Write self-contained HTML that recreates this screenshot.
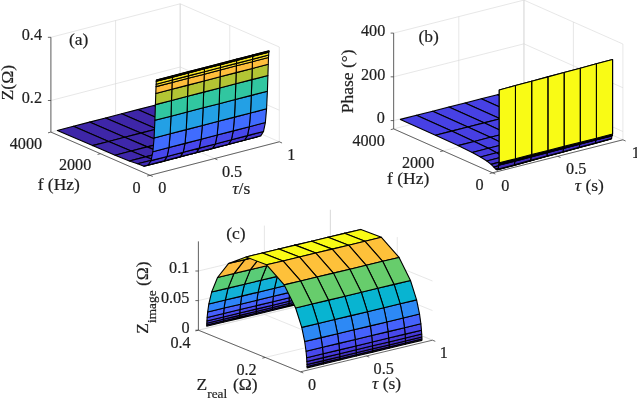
<!DOCTYPE html><html><head><meta charset="utf-8"><title>Figure</title><style>html,body{margin:0;padding:0;background:#fff}svg{display:block}</style></head><body><svg width="637" height="400" viewBox="0 0 637 400" font-family="'Liberation Serif', 'DejaVu Serif', serif" fill="#1f1f1f"><rect width="637" height="400" fill="#fff"/><g fill="none"><line x1="150" y1="175.3" x2="50.9" y2="132.1" stroke="#d3d3d3" stroke-width="0.55"/><line x1="50.9" y1="132.1" x2="50.9" y2="37.3" stroke="#d3d3d3" stroke-width="0.55"/><line x1="214.65" y1="158.55" x2="115.55" y2="115.35" stroke="#d3d3d3" stroke-width="0.55"/><line x1="115.55" y1="115.35" x2="115.55" y2="20.55" stroke="#d3d3d3" stroke-width="0.55"/><line x1="279.3" y1="141.8" x2="180.2" y2="98.6" stroke="#d3d3d3" stroke-width="0.55"/><line x1="180.2" y1="98.6" x2="180.2" y2="3.8" stroke="#d3d3d3" stroke-width="0.55"/><line x1="150" y1="175.3" x2="279.3" y2="141.8" stroke="#d3d3d3" stroke-width="0.55"/><line x1="279.3" y1="141.8" x2="279.3" y2="47" stroke="#d3d3d3" stroke-width="0.55"/><line x1="100.45" y1="153.7" x2="229.75" y2="120.2" stroke="#d3d3d3" stroke-width="0.55"/><line x1="229.75" y1="120.2" x2="229.75" y2="25.4" stroke="#d3d3d3" stroke-width="0.55"/><line x1="50.9" y1="132.1" x2="180.2" y2="98.6" stroke="#d3d3d3" stroke-width="0.55"/><line x1="180.2" y1="98.6" x2="180.2" y2="3.8" stroke="#d3d3d3" stroke-width="0.55"/><line x1="50.9" y1="100.5" x2="180.2" y2="67" stroke="#d3d3d3" stroke-width="0.55"/><line x1="180.2" y1="67" x2="279.3" y2="110.2" stroke="#d3d3d3" stroke-width="0.55"/><line x1="50.9" y1="37.3" x2="180.2" y2="3.8" stroke="#d3d3d3" stroke-width="0.55"/><line x1="180.2" y1="3.8" x2="279.3" y2="47" stroke="#d3d3d3" stroke-width="0.55"/><g stroke="#000" stroke-width="1.1" stroke-linejoin="round"><polygon points="153.79,105.44 169.86,101.28 205.04,116.46 188.97,120.62" fill="#3e26a8"/><polygon points="137.72,109.61 153.79,105.44 188.97,120.62 172.9,124.79" fill="#3e26a8"/><polygon points="121.65,113.77 137.72,109.61 172.9,124.79 156.83,128.95" fill="#3e26a8"/><polygon points="105.58,117.93 121.65,113.77 156.83,128.95 140.76,133.11" fill="#3e26a8"/><polygon points="188.97,120.62 205.04,116.46 227.58,126.06 211.51,130.23" fill="#3e27aa"/><polygon points="89.51,122.1 105.58,117.93 140.76,133.11 124.69,137.28" fill="#3e26a8"/><polygon points="172.9,124.79 188.97,120.62 211.51,130.23 195.44,134.39" fill="#3e27aa"/><polygon points="73.44,126.26 89.51,122.1 124.69,137.28 108.62,141.44" fill="#3e26a8"/><polygon points="211.51,130.23 227.58,126.06 241.83,131.86 225.76,136.03" fill="#3e27ab"/><polygon points="156.83,128.95 172.9,124.79 195.44,134.39 179.37,138.56" fill="#3e27aa"/><polygon points="57.37,130.42 73.44,126.26 108.62,141.44 92.55,145.6" fill="#3e26a8"/><polygon points="195.44,134.39 211.51,130.23 225.76,136.03 209.69,140.19" fill="#3e27ab"/><polygon points="140.76,133.11 156.83,128.95 179.37,138.56 163.3,142.72" fill="#3e27aa"/><polygon points="225.76,136.03 241.83,131.86 250.09,134.68 234.02,138.84" fill="#3f28af"/><polygon points="179.37,138.56 195.44,134.39 209.69,140.19 193.62,144.35" fill="#3e27ab"/><polygon points="124.69,137.28 140.76,133.11 163.3,142.72 147.23,146.88" fill="#3e27aa"/><polygon points="234.02,138.84 250.09,134.68 256.5,137.15 240.43,141.32" fill="#402ab5"/><polygon points="209.69,140.19 225.76,136.03 234.02,138.84 217.95,143.01" fill="#3f28af"/><polygon points="240.43,141.32 256.5,137.15 260.73,135.84 244.66,140" fill="#402bb7"/><polygon points="163.3,142.72 179.37,138.56 193.62,144.35 177.55,148.52" fill="#3e27ab"/><polygon points="108.62,141.44 124.69,137.28 147.23,146.88 131.16,151.05" fill="#3e27aa"/><polygon points="217.95,143.01 234.02,138.84 240.43,141.32 224.36,145.48" fill="#402ab5"/><polygon points="193.62,144.35 209.69,140.19 217.95,143.01 201.88,147.17" fill="#3f28af"/><polygon points="244.66,140 260.73,135.84 263.52,131.46 247.45,135.63" fill="#4434cf"/><polygon points="224.36,145.48 240.43,141.32 244.66,140 228.59,144.16" fill="#402bb7"/><polygon points="147.23,146.88 163.3,142.72 177.55,148.52 161.48,152.68" fill="#3e27ab"/><polygon points="92.55,145.6 108.62,141.44 131.16,151.05 115.09,155.21" fill="#3e27aa"/><polygon points="201.88,147.17 217.95,143.01 224.36,145.48 208.29,149.64" fill="#402ab5"/><polygon points="177.55,148.52 193.62,144.35 201.88,147.17 185.81,151.33" fill="#3f28af"/><polygon points="247.45,135.63 263.52,131.46 265.37,122.53 249.3,126.7" fill="#4747ec"/><polygon points="228.59,144.16 244.66,140 247.45,135.63 231.38,139.79" fill="#4434cf"/><polygon points="208.29,149.64 224.36,145.48 228.59,144.16 212.52,148.33" fill="#402bb7"/><polygon points="131.16,151.05 147.23,146.88 161.48,152.68 145.41,156.85" fill="#3e27ab"/><polygon points="185.81,151.33 201.88,147.17 208.29,149.64 192.22,153.81" fill="#402ab5"/><polygon points="161.48,152.68 177.55,148.52 185.81,151.33 169.74,155.5" fill="#3f28af"/><polygon points="231.38,139.79 247.45,135.63 249.3,126.7 233.23,130.86" fill="#4747ec"/><polygon points="249.3,126.7 265.37,122.53 266.58,108.81 250.51,112.98" fill="#406cfe"/><polygon points="212.52,148.33 228.59,144.16 231.38,139.79 215.31,143.95" fill="#4434cf"/><polygon points="192.22,153.81 208.29,149.64 212.52,148.33 196.45,152.49" fill="#402bb7"/><polygon points="115.09,155.21 131.16,151.05 145.41,156.85 129.34,161.01" fill="#3e27ab"/><polygon points="169.74,155.5 185.81,151.33 192.22,153.81 176.15,157.97" fill="#402ab5"/><polygon points="145.41,156.85 161.48,152.68 169.74,155.5 153.67,159.66" fill="#3f28af"/><polygon points="215.31,143.95 231.38,139.79 233.23,130.86 217.16,135.02" fill="#4747ec"/><polygon points="233.23,130.86 249.3,126.7 250.51,112.98 234.44,117.14" fill="#406cfe"/><polygon points="196.45,152.49 212.52,148.33 215.31,143.95 199.24,148.12" fill="#4434cf"/><polygon points="176.15,157.97 192.22,153.81 196.45,152.49 180.38,156.65" fill="#402bb7"/><polygon points="250.51,112.98 266.58,108.81 267.39,91.18 251.32,95.35" fill="#23a0e5"/><polygon points="153.67,159.66 169.74,155.5 176.15,157.97 160.08,162.13" fill="#402ab5"/><polygon points="129.34,161.01 145.41,156.85 153.67,159.66 137.6,163.82" fill="#3f28af"/><polygon points="199.24,148.12 215.31,143.95 217.16,135.02 201.09,139.19" fill="#4747ec"/><polygon points="217.16,135.02 233.23,130.86 234.44,117.14 218.37,121.3" fill="#406cfe"/><polygon points="180.38,156.65 196.45,152.49 199.24,148.12 183.17,152.28" fill="#4434cf"/><polygon points="160.08,162.13 176.15,157.97 180.38,156.65 164.31,160.82" fill="#402bb7"/><polygon points="234.44,117.14 250.51,112.98 251.32,95.35 235.25,99.51" fill="#23a0e5"/><polygon points="137.6,163.82 153.67,159.66 160.08,162.13 144.01,166.3" fill="#402ab5"/><polygon points="251.32,95.35 267.39,91.18 267.92,75.46 251.85,79.62" fill="#31c6a0"/><polygon points="183.17,152.28 199.24,148.12 201.09,139.19 185.02,143.35" fill="#4747ec"/><polygon points="201.09,139.19 217.16,135.02 218.37,121.3 202.3,125.47" fill="#406cfe"/><polygon points="164.31,160.82 180.38,156.65 183.17,152.28 167.1,156.44" fill="#4434cf"/><polygon points="144.01,166.3 160.08,162.13 164.31,160.82 148.24,164.98" fill="#402bb7"/><polygon points="218.37,121.3 234.44,117.14 235.25,99.51 219.18,103.67" fill="#23a0e5"/><polygon points="235.25,99.51 251.32,95.35 251.85,79.62 235.78,83.78" fill="#31c6a0"/><polygon points="167.1,156.44 183.17,152.28 185.02,143.35 168.95,147.51" fill="#4747ec"/><polygon points="251.85,79.62 267.92,75.46 268.27,64.3 252.2,68.46" fill="#b3c534"/><polygon points="185.02,143.35 201.09,139.19 202.3,125.47 186.23,129.63" fill="#406cfe"/><polygon points="148.24,164.98 164.31,160.82 167.1,156.44 151.03,160.61" fill="#4434cf"/><polygon points="202.3,125.47 218.37,121.3 219.18,103.67 203.11,107.84" fill="#23a0e5"/><polygon points="252.2,68.46 268.27,64.3 268.5,57.51 252.43,61.67" fill="#febe3c"/><polygon points="219.18,103.67 235.25,99.51 235.78,83.78 219.71,87.95" fill="#31c6a0"/><polygon points="151.03,160.61 167.1,156.44 168.95,147.51 152.88,151.68" fill="#4747ec"/><polygon points="235.78,83.78 251.85,79.62 252.2,68.46 236.13,72.62" fill="#b3c534"/><polygon points="168.95,147.51 185.02,143.35 186.23,129.63 170.16,133.79" fill="#406cfe"/><polygon points="252.43,61.67 268.5,57.51 268.66,55.05 252.59,59.21" fill="#f8da2b"/><polygon points="252.59,59.21 268.66,55.05 268.76,52.15 252.69,56.32" fill="#f5e526"/><polygon points="186.23,129.63 202.3,125.47 203.11,107.84 187.04,112" fill="#23a0e5"/><polygon points="252.69,56.32 268.76,52.15 268.83,51.87 252.76,56.03" fill="#f6f11f"/><polygon points="252.76,56.03 268.83,51.87 268.87,51.54 252.8,55.7" fill="#f6f21e"/><polygon points="252.8,55.7 268.87,51.54 268.9,51.27 252.83,55.43" fill="#f7f31c"/><polygon points="252.83,55.43 268.9,51.27 268.92,50.96 252.85,55.12" fill="#f7f51b"/><polygon points="252.85,55.12 268.92,50.96 268.93,50.78 252.86,54.94" fill="#f7f61a"/><polygon points="236.13,72.62 252.2,68.46 252.43,61.67 236.36,65.84" fill="#febe3c"/><polygon points="203.11,107.84 219.18,103.67 219.71,87.95 203.64,92.11" fill="#31c6a0"/><polygon points="219.71,87.95 235.78,83.78 236.13,72.62 220.06,76.79" fill="#b3c534"/><polygon points="152.88,151.68 168.95,147.51 170.16,133.79 154.09,137.96" fill="#406cfe"/><polygon points="236.36,65.84 252.43,61.67 252.59,59.21 236.52,63.38" fill="#f8da2b"/><polygon points="236.52,63.38 252.59,59.21 252.69,56.32 236.62,60.48" fill="#f5e526"/><polygon points="170.16,133.79 186.23,129.63 187.04,112 170.97,116.16" fill="#23a0e5"/><polygon points="236.62,60.48 252.69,56.32 252.76,56.03 236.69,60.19" fill="#f6f11f"/><polygon points="236.69,60.19 252.76,56.03 252.8,55.7 236.73,59.87" fill="#f6f21e"/><polygon points="236.73,59.87 252.8,55.7 252.83,55.43 236.76,59.59" fill="#f7f31c"/><polygon points="236.76,59.59 252.83,55.43 252.85,55.12 236.78,59.29" fill="#f7f51b"/><polygon points="236.78,59.29 252.85,55.12 252.86,54.94 236.79,59.1" fill="#f7f61a"/><polygon points="220.06,76.79 236.13,72.62 236.36,65.84 220.29,70" fill="#febe3c"/><polygon points="187.04,112 203.11,107.84 203.64,92.11 187.57,96.27" fill="#31c6a0"/><polygon points="203.64,92.11 219.71,87.95 220.06,76.79 203.99,80.95" fill="#b3c534"/><polygon points="220.29,70 236.36,65.84 236.52,63.38 220.45,67.54" fill="#f8da2b"/><polygon points="220.45,67.54 236.52,63.38 236.62,60.48 220.55,64.64" fill="#f5e526"/><polygon points="154.09,137.96 170.16,133.79 170.97,116.16 154.9,120.33" fill="#23a0e5"/><polygon points="220.55,64.64 236.62,60.48 236.69,60.19 220.62,64.36" fill="#f6f11f"/><polygon points="220.62,64.36 236.69,60.19 236.73,59.87 220.66,64.03" fill="#f6f21e"/><polygon points="220.66,64.03 236.73,59.87 236.76,59.59 220.69,63.76" fill="#f7f31c"/><polygon points="220.69,63.76 236.76,59.59 236.78,59.29 220.71,63.45" fill="#f7f51b"/><polygon points="220.71,63.45 236.78,59.29 236.79,59.1 220.72,63.27" fill="#f7f61a"/><polygon points="203.99,80.95 220.06,76.79 220.29,70 204.22,74.16" fill="#febe3c"/><polygon points="170.97,116.16 187.04,112 187.57,96.27 171.5,100.44" fill="#31c6a0"/><polygon points="187.57,96.27 203.64,92.11 203.99,80.95 187.92,85.12" fill="#b3c534"/><polygon points="204.22,74.16 220.29,70 220.45,67.54 204.38,71.7" fill="#f8da2b"/><polygon points="204.38,71.7 220.45,67.54 220.55,64.64 204.48,68.81" fill="#f5e526"/><polygon points="204.48,68.81 220.55,64.64 220.62,64.36 204.55,68.52" fill="#f6f11f"/><polygon points="204.55,68.52 220.62,64.36 220.66,64.03 204.59,68.19" fill="#f6f21e"/><polygon points="204.59,68.19 220.66,64.03 220.69,63.76 204.62,67.92" fill="#f7f31c"/><polygon points="204.62,67.92 220.69,63.76 220.71,63.45 204.64,67.61" fill="#f7f51b"/><polygon points="204.64,67.61 220.71,63.45 220.72,63.27 204.65,67.43" fill="#f7f61a"/><polygon points="187.92,85.12 203.99,80.95 204.22,74.16 188.15,78.33" fill="#febe3c"/><polygon points="154.9,120.33 170.97,116.16 171.5,100.44 155.43,104.6" fill="#31c6a0"/><polygon points="171.5,100.44 187.57,96.27 187.92,85.12 171.85,89.28" fill="#b3c534"/><polygon points="188.15,78.33 204.22,74.16 204.38,71.7 188.31,75.87" fill="#f8da2b"/><polygon points="188.31,75.87 204.38,71.7 204.48,68.81 188.41,72.97" fill="#f5e526"/><polygon points="188.41,72.97 204.48,68.81 204.55,68.52 188.48,72.68" fill="#f6f11f"/><polygon points="188.48,72.68 204.55,68.52 204.59,68.19 188.52,72.36" fill="#f6f21e"/><polygon points="188.52,72.36 204.59,68.19 204.62,67.92 188.55,72.08" fill="#f7f31c"/><polygon points="188.55,72.08 204.62,67.92 204.64,67.61 188.57,71.78" fill="#f7f51b"/><polygon points="188.57,71.78 204.64,67.61 204.65,67.43 188.58,71.59" fill="#f7f61a"/><polygon points="171.85,89.28 187.92,85.12 188.15,78.33 172.08,82.49" fill="#febe3c"/><polygon points="155.43,104.6 171.5,100.44 171.85,89.28 155.78,93.44" fill="#b3c534"/><polygon points="172.08,82.49 188.15,78.33 188.31,75.87 172.24,80.03" fill="#f8da2b"/><polygon points="172.24,80.03 188.31,75.87 188.41,72.97 172.34,77.14" fill="#f5e526"/><polygon points="172.34,77.14 188.41,72.97 188.48,72.68 172.41,76.85" fill="#f6f11f"/><polygon points="172.41,76.85 188.48,72.68 188.52,72.36 172.45,76.52" fill="#f6f21e"/><polygon points="172.45,76.52 188.52,72.36 188.55,72.08 172.48,76.25" fill="#f7f31c"/><polygon points="172.48,76.25 188.55,72.08 188.57,71.78 172.5,75.94" fill="#f7f51b"/><polygon points="172.5,75.94 188.57,71.78 188.58,71.59 172.51,75.76" fill="#f7f61a"/><polygon points="155.78,93.44 171.85,89.28 172.08,82.49 156.01,86.65" fill="#febe3c"/><polygon points="156.01,86.65 172.08,82.49 172.24,80.03 156.17,84.19" fill="#f8da2b"/><polygon points="156.17,84.19 172.24,80.03 172.34,77.14 156.27,81.3" fill="#f5e526"/><polygon points="156.27,81.3 172.34,77.14 172.41,76.85 156.33,81.01" fill="#f6f11f"/><polygon points="156.33,81.01 172.41,76.85 172.45,76.52 156.38,80.68" fill="#f6f21e"/><polygon points="156.38,80.68 172.45,76.52 172.48,76.25 156.41,80.41" fill="#f7f31c"/><polygon points="156.41,80.41 172.48,76.25 172.5,75.94 156.43,80.1" fill="#f7f51b"/><polygon points="156.43,80.1 172.5,75.94 172.51,75.76 156.44,79.92" fill="#f7f61a"/></g><line x1="150" y1="175.3" x2="279.3" y2="141.8" stroke="#383838" stroke-width="0.75"/><line x1="150" y1="175.3" x2="50.9" y2="132.1" stroke="#383838" stroke-width="0.75"/><line x1="50.9" y1="132.1" x2="50.9" y2="37.3" stroke="#383838" stroke-width="0.75"/><line x1="150" y1="175.3" x2="152.75" y2="176.5" stroke="#383838" stroke-width="0.75"/><line x1="214.65" y1="158.55" x2="217.4" y2="159.75" stroke="#383838" stroke-width="0.75"/><line x1="279.3" y1="141.8" x2="282.05" y2="143" stroke="#383838" stroke-width="0.75"/><line x1="150" y1="175.3" x2="147.1" y2="176.05" stroke="#383838" stroke-width="0.75"/><line x1="100.45" y1="153.7" x2="97.55" y2="154.45" stroke="#383838" stroke-width="0.75"/><line x1="50.9" y1="132.1" x2="48" y2="132.85" stroke="#383838" stroke-width="0.75"/><line x1="50.9" y1="100.5" x2="47.9" y2="100.5" stroke="#383838" stroke-width="0.75"/><line x1="50.9" y1="37.3" x2="47.9" y2="37.3" stroke="#383838" stroke-width="0.75"/><line x1="492.6" y1="172.8" x2="393.65" y2="128.9" stroke="#d3d3d3" stroke-width="0.55"/><line x1="393.65" y1="128.9" x2="393.65" y2="33.1" stroke="#d3d3d3" stroke-width="0.55"/><line x1="557.75" y1="156.3" x2="458.8" y2="112.4" stroke="#d3d3d3" stroke-width="0.55"/><line x1="458.8" y1="112.4" x2="458.8" y2="16.6" stroke="#d3d3d3" stroke-width="0.55"/><line x1="622.9" y1="139.8" x2="523.95" y2="95.9" stroke="#d3d3d3" stroke-width="0.55"/><line x1="523.95" y1="95.9" x2="523.95" y2="0.1" stroke="#d3d3d3" stroke-width="0.55"/><line x1="492.6" y1="172.8" x2="622.9" y2="139.8" stroke="#d3d3d3" stroke-width="0.55"/><line x1="622.9" y1="139.8" x2="622.9" y2="44" stroke="#d3d3d3" stroke-width="0.55"/><line x1="443.12" y1="150.85" x2="573.42" y2="117.85" stroke="#d3d3d3" stroke-width="0.55"/><line x1="573.42" y1="117.85" x2="573.42" y2="22.05" stroke="#d3d3d3" stroke-width="0.55"/><line x1="393.65" y1="128.9" x2="523.95" y2="95.9" stroke="#d3d3d3" stroke-width="0.55"/><line x1="523.95" y1="95.9" x2="523.95" y2="0.1" stroke="#d3d3d3" stroke-width="0.55"/><line x1="393.65" y1="120.59" x2="523.95" y2="87.59" stroke="#d3d3d3" stroke-width="0.55"/><line x1="523.95" y1="87.59" x2="622.9" y2="131.49" stroke="#d3d3d3" stroke-width="0.55"/><line x1="393.65" y1="76.84" x2="523.95" y2="43.84" stroke="#d3d3d3" stroke-width="0.55"/><line x1="523.95" y1="43.84" x2="622.9" y2="87.74" stroke="#d3d3d3" stroke-width="0.55"/><line x1="393.65" y1="33.1" x2="523.95" y2="0.1" stroke="#d3d3d3" stroke-width="0.55"/><line x1="523.95" y1="0.1" x2="622.9" y2="44" stroke="#d3d3d3" stroke-width="0.55"/><g stroke="#000" stroke-width="1.1" stroke-linejoin="round"><polygon points="497.47,94.68 513.66,90.56 548.78,106.34 532.6,110.47" fill="#4741e5"/><polygon points="481.28,98.8 497.47,94.68 532.6,110.47 516.41,114.6" fill="#4741e5"/><polygon points="465.1,102.92 481.28,98.8 516.41,114.6 500.22,118.73" fill="#4741e5"/><polygon points="448.91,107.04 465.1,102.92 500.22,118.73 484.04,122.85" fill="#4741e5"/><polygon points="532.6,110.47 548.78,106.34 571.29,116.61 555.11,120.76" fill="#4740e4"/><polygon points="432.72,111.16 448.91,107.04 484.04,122.85 467.85,126.98" fill="#4741e5"/><polygon points="516.41,114.6 532.6,110.47 555.11,120.76 538.92,124.9" fill="#4740e4"/><polygon points="416.53,115.28 432.72,111.16 467.85,126.98 451.66,131.11" fill="#4741e4"/><polygon points="555.11,120.76 571.29,116.61 585.52,123.34 569.33,127.5" fill="#473fe2"/><polygon points="500.22,118.73 516.41,114.6 538.92,124.9 522.73,129.05" fill="#4740e3"/><polygon points="400.35,119.4 416.53,115.28 451.66,131.11 435.47,135.24" fill="#4740e4"/><polygon points="538.92,124.9 555.11,120.76 569.33,127.5 553.14,131.67" fill="#473fe2"/><polygon points="484.04,122.85 500.22,118.73 522.73,129.05 506.55,133.19" fill="#4740e3"/><polygon points="569.33,127.5 585.52,123.34 593.77,127.62 577.59,131.82" fill="#463de0"/><polygon points="577.59,131.82 593.77,127.62 600.17,131.3 583.98,135.55" fill="#463adc"/><polygon points="522.73,129.05 538.92,124.9 553.14,131.67 536.96,135.84" fill="#473ee2"/><polygon points="467.85,126.98 484.04,122.85 506.55,133.19 490.36,137.33" fill="#4740e3"/><polygon points="553.14,131.67 569.33,127.5 577.59,131.82 561.4,136.02" fill="#463ddf"/><polygon points="583.98,135.55 600.17,131.3 604.39,134.24 588.2,138.54" fill="#4537d5"/><polygon points="588.2,138.54 604.39,134.24 607.18,136.58 590.99,140.94" fill="#4433cc"/><polygon points="590.99,140.94 607.18,136.58 609.02,138.2 592.83,142.6" fill="#422fc2"/><polygon points="561.4,136.02 577.59,131.82 583.98,135.55 567.79,139.79" fill="#463adb"/><polygon points="592.83,142.6 609.02,138.2 610.24,138.9 594.05,143.31" fill="#412dbb"/><polygon points="506.55,133.19 522.73,129.05 536.96,135.84 520.77,140" fill="#473ee1"/><polygon points="451.66,131.11 467.85,126.98 490.36,137.33 474.17,141.48" fill="#473fe3"/><polygon points="594.05,143.31 610.24,138.9 611.04,138.98 594.86,143.38" fill="#412cb9"/><polygon points="536.96,135.84 553.14,131.67 561.4,136.02 545.21,140.22" fill="#463cdf"/><polygon points="594.86,143.38 611.04,138.98 611.57,138.58 595.39,142.94" fill="#412dbc"/><polygon points="567.79,139.79 583.98,135.55 588.2,138.54 572.02,142.85" fill="#4536d4"/><polygon points="595.39,142.94 611.57,138.58 611.92,135.87 595.74,140.07" fill="#422fc2"/><polygon points="595.74,140.07 611.92,135.87 612.16,135.57 595.97,139.76" fill="#463ada"/><polygon points="595.97,139.76 612.16,135.57 612.31,135.24 596.12,139.41" fill="#463bdd"/><polygon points="596.12,139.41 612.31,135.24 612.41,134.96 596.22,139.12" fill="#463de0"/><polygon points="572.02,142.85 588.2,138.54 590.99,140.94 574.81,145.3" fill="#4332cb"/><polygon points="596.22,139.12 612.41,134.96 612.48,134.68 596.29,138.81" fill="#473ee1"/><polygon points="596.29,138.81 612.48,134.68 612.52,134.38 596.33,138.49" fill="#4740e3"/><polygon points="596.33,138.49 612.52,134.38 612.55,134.23 596.36,138.34" fill="#4741e5"/><polygon points="574.81,145.3 590.99,140.94 592.83,142.6 576.65,147" fill="#422fc0"/><polygon points="545.21,140.22 561.4,136.02 567.79,139.79 551.61,144.04" fill="#463ada"/><polygon points="576.65,147 592.83,142.6 594.05,143.31 577.86,147.72" fill="#412cb8"/><polygon points="490.36,137.33 506.55,133.19 520.77,140 504.58,144.17" fill="#463ee1"/><polygon points="435.47,135.24 451.66,131.11 474.17,141.48 457.99,145.62" fill="#473fe3"/><polygon points="577.86,147.72 594.05,143.31 594.86,143.38 578.67,147.77" fill="#402bb7"/><polygon points="520.77,140 536.96,135.84 545.21,140.22 529.03,144.42" fill="#463cdf"/><polygon points="578.67,147.77 594.86,143.38 595.39,142.94 579.2,147.3" fill="#412cb9"/><polygon points="551.61,144.04 567.79,139.79 572.02,142.85 555.83,147.15" fill="#4536d3"/><polygon points="579.2,147.3 595.39,142.94 595.74,140.07 579.55,144.28" fill="#422ebf"/><polygon points="579.55,144.28 595.74,140.07 595.97,139.76 579.78,143.95" fill="#4639d9"/><polygon points="579.78,143.95 595.97,139.76 596.12,139.41 579.93,143.57" fill="#463bdc"/><polygon points="555.83,147.15 572.02,142.85 574.81,145.3 558.62,149.66" fill="#4332c9"/><polygon points="579.93,143.57 596.12,139.41 596.22,139.12 580.04,143.27" fill="#463ddf"/><polygon points="580.04,143.27 596.22,139.12 596.29,138.81 580.1,142.94" fill="#473ee1"/><polygon points="580.1,142.94 596.29,138.81 596.33,138.49 580.15,142.61" fill="#4740e3"/><polygon points="580.15,142.61 596.33,138.49 596.36,138.34 580.18,142.45" fill="#4741e5"/><polygon points="558.62,149.66 574.81,145.3 576.65,147 560.46,151.4" fill="#412ebe"/><polygon points="529.03,144.42 545.21,140.22 551.61,144.04 535.42,148.28" fill="#4639d9"/><polygon points="560.46,151.4 576.65,147 577.86,147.72 561.68,152.13" fill="#402bb6"/><polygon points="474.17,141.48 490.36,137.33 504.58,144.17 488.4,148.34" fill="#463ee1"/><polygon points="561.68,152.13 577.86,147.72 578.67,147.77 562.48,152.17" fill="#402ab4"/><polygon points="504.58,144.17 520.77,140 529.03,144.42 512.84,148.62" fill="#463cde"/><polygon points="562.48,152.17 578.67,147.77 579.2,147.3 563.01,151.66" fill="#402bb7"/><polygon points="535.42,148.28 551.61,144.04 555.83,147.15 539.64,151.45" fill="#4535d2"/><polygon points="563.01,151.66 579.2,147.3 579.55,144.28 563.36,148.49" fill="#412dbd"/><polygon points="563.36,148.49 579.55,144.28 579.78,143.95 563.59,148.13" fill="#4539d9"/><polygon points="563.59,148.13 579.78,143.95 579.93,143.57 563.75,147.74" fill="#463adc"/><polygon points="539.64,151.45 555.83,147.15 558.62,149.66 542.43,154.02" fill="#4331c7"/><polygon points="563.75,147.74 579.93,143.57 580.04,143.27 563.85,147.42" fill="#463cdf"/><polygon points="563.85,147.42 580.04,143.27 580.1,142.94 563.92,147.08" fill="#463ee1"/><polygon points="563.92,147.08 580.1,142.94 580.15,142.61 563.96,146.73" fill="#473fe3"/><polygon points="563.96,146.73 580.15,142.61 580.18,142.45 563.99,146.55" fill="#4741e5"/><polygon points="542.43,154.02 558.62,149.66 560.46,151.4 544.27,155.8" fill="#412dbb"/><polygon points="512.84,148.62 529.03,144.42 535.42,148.28 519.23,152.52" fill="#4539d9"/><polygon points="544.27,155.8 560.46,151.4 561.68,152.13 545.49,156.54" fill="#402ab3"/><polygon points="457.99,145.62 474.17,141.48 488.4,148.34 472.21,152.5" fill="#463ee1"/><polygon points="545.49,156.54 561.68,152.13 562.48,152.17 546.29,156.56" fill="#3f29b1"/><polygon points="546.29,156.56 562.48,152.17 563.01,151.66 546.83,156.03" fill="#402ab4"/><polygon points="488.4,148.34 504.58,144.17 512.84,148.62 496.65,152.82" fill="#463cde"/><polygon points="519.23,152.52 535.42,148.28 539.64,151.45 523.46,155.75" fill="#4435d1"/><polygon points="546.83,156.03 563.01,151.66 563.36,148.49 547.18,152.7" fill="#412dbb"/><polygon points="547.18,152.7 563.36,148.49 563.59,148.13 547.41,152.32" fill="#4538d8"/><polygon points="547.41,152.32 563.59,148.13 563.75,147.74 547.56,151.91" fill="#463adb"/><polygon points="523.46,155.75 539.64,151.45 542.43,154.02 526.24,158.38" fill="#4330c5"/><polygon points="547.56,151.91 563.75,147.74 563.85,147.42 547.66,151.57" fill="#463cde"/><polygon points="547.66,151.57 563.85,147.42 563.92,147.08 547.73,151.21" fill="#463ee1"/><polygon points="547.73,151.21 563.92,147.08 563.96,146.73 547.77,150.84" fill="#473fe3"/><polygon points="596.36,138.34 612.55,134.23 612.57,59.49 596.38,63.84" fill="#4742e6"/><polygon points="596.38,63.84 612.57,59.49 612.58,134.08 596.39,138.18" fill="#f9fb15"/><polygon points="547.77,150.84 563.96,146.73 563.99,146.55 547.8,150.66" fill="#4741e5"/><polygon points="526.24,158.38 542.43,154.02 544.27,155.8 528.09,160.2" fill="#412cb9"/><polygon points="496.65,152.82 512.84,148.62 519.23,152.52 503.05,156.77" fill="#4538d8"/><polygon points="528.09,160.2 544.27,155.8 545.49,156.54 529.3,160.95" fill="#3f29b0"/><polygon points="529.3,160.95 545.49,156.54 546.29,156.56 530.11,160.96" fill="#3f28ae"/><polygon points="530.11,160.96 546.29,156.56 546.83,156.03 530.64,160.39" fill="#3f29b1"/><polygon points="472.21,152.5 488.4,148.34 496.65,152.82 480.46,157.02" fill="#463bdd"/><polygon points="503.05,156.77 519.23,152.52 523.46,155.75 507.27,160.05" fill="#4434d0"/><polygon points="530.64,160.39 546.83,156.03 547.18,152.7 530.99,156.91" fill="#412cb9"/><polygon points="530.99,156.91 547.18,152.7 547.41,152.32 531.22,156.51" fill="#4538d7"/><polygon points="531.22,156.51 547.41,152.32 547.56,151.91 531.37,156.07" fill="#463adb"/><polygon points="507.27,160.05 523.46,155.75 526.24,158.38 510.06,162.74" fill="#4230c4"/><polygon points="531.37,156.07 547.56,151.91 547.66,151.57 531.47,155.72" fill="#463cde"/><polygon points="531.47,155.72 547.66,151.57 547.73,151.21 531.54,155.34" fill="#463de0"/><polygon points="531.54,155.34 547.73,151.21 547.77,150.84 531.59,154.96" fill="#473fe3"/><polygon points="580.18,142.45 596.36,138.34 596.38,63.84 580.19,68.19" fill="#4742e6"/><polygon points="580.19,68.19 596.38,63.84 596.39,138.18 580.21,142.28" fill="#f9fb15"/><polygon points="531.59,154.96 547.77,150.84 547.8,150.66 531.61,154.77" fill="#4741e5"/><polygon points="510.06,162.74 526.24,158.38 528.09,160.2 511.9,164.61" fill="#402bb7"/><polygon points="480.46,157.02 496.65,152.82 503.05,156.77 486.86,161.01" fill="#4538d7"/><polygon points="511.9,164.61 528.09,160.2 529.3,160.95 513.12,165.36" fill="#3f28ad"/><polygon points="513.12,165.36 529.3,160.95 530.11,160.96 513.92,165.35" fill="#3e27ab"/><polygon points="513.92,165.35 530.11,160.96 530.64,160.39 514.45,164.75" fill="#3f28af"/><polygon points="486.86,161.01 503.05,156.77 507.27,160.05 491.08,164.35" fill="#4434ce"/><polygon points="514.45,164.75 530.64,160.39 530.99,156.91 514.8,161.12" fill="#402bb6"/><polygon points="514.8,161.12 530.99,156.91 531.22,156.51 515.03,160.7" fill="#4537d6"/><polygon points="491.08,164.35 507.27,160.05 510.06,162.74 493.87,167.1" fill="#422fc2"/><polygon points="515.03,160.7 531.22,156.51 531.37,156.07 515.19,160.24" fill="#4639da"/><polygon points="515.19,160.24 531.37,156.07 531.47,155.72 515.29,159.87" fill="#463bde"/><polygon points="515.29,159.87 531.47,155.72 531.54,155.34 515.35,159.48" fill="#463de0"/><polygon points="563.99,146.55 580.18,142.45 580.19,68.19 564.01,72.54" fill="#4742e6"/><polygon points="515.35,159.48 531.54,155.34 531.59,154.96 515.4,159.08" fill="#473fe2"/><polygon points="564.01,72.54 580.19,68.19 580.21,142.28 564.02,146.38" fill="#f9fb15"/><polygon points="493.87,167.1 510.06,162.74 511.9,164.61 495.71,169.01" fill="#402ab5"/><polygon points="515.4,159.08 531.59,154.96 531.61,154.77 515.43,158.88" fill="#4741e5"/><polygon points="495.71,169.01 511.9,164.61 513.12,165.36 496.93,169.77" fill="#3e27aa"/><polygon points="496.93,169.77 513.12,165.36 513.92,165.35 497.73,169.75" fill="#3e26a8"/><polygon points="497.73,169.75 513.92,165.35 514.45,164.75 498.26,169.11" fill="#3e27ac"/><polygon points="498.26,169.11 514.45,164.75 514.8,161.12 498.62,165.33" fill="#402ab4"/><polygon points="498.62,165.33 514.8,161.12 515.03,160.7 498.85,164.89" fill="#4537d6"/><polygon points="498.85,164.89 515.03,160.7 515.19,160.24 499,164.41" fill="#4639d9"/><polygon points="499,164.41 515.19,160.24 515.29,159.87 499.1,164.02" fill="#463bdd"/><polygon points="499.1,164.02 515.29,159.87 515.35,159.48 499.17,163.61" fill="#463de0"/><polygon points="547.8,150.66 563.99,146.55 564.01,72.54 547.82,76.89" fill="#4742e6"/><polygon points="547.82,76.89 564.01,72.54 564.02,146.38 547.83,150.48" fill="#f9fb15"/><polygon points="499.17,163.61 515.35,159.48 515.4,159.08 499.21,163.19" fill="#473fe2"/><polygon points="499.21,163.19 515.4,159.08 515.43,158.88 499.24,162.99" fill="#4741e5"/><polygon points="531.61,154.77 547.8,150.66 547.82,76.89 531.63,81.24" fill="#4742e6"/><polygon points="531.63,81.24 547.82,76.89 547.83,150.48 531.65,154.58" fill="#f9fb15"/><polygon points="515.43,158.88 531.61,154.77 531.63,81.24 515.45,85.59" fill="#4742e6"/><polygon points="515.45,85.59 531.63,81.24 531.65,154.58 515.46,158.68" fill="#f9fb15"/><polygon points="499.24,162.99 515.43,158.88 515.45,85.59 499.26,89.94" fill="#4742e6"/><polygon points="499.26,89.94 515.45,85.59 515.46,158.68 499.27,162.78" fill="#f9fb15"/></g><line x1="492.6" y1="172.8" x2="622.9" y2="139.8" stroke="#383838" stroke-width="0.75"/><line x1="492.6" y1="172.8" x2="393.65" y2="128.9" stroke="#383838" stroke-width="0.75"/><line x1="393.65" y1="128.9" x2="393.65" y2="33.1" stroke="#383838" stroke-width="0.75"/><line x1="492.6" y1="172.8" x2="495.34" y2="174.02" stroke="#383838" stroke-width="0.75"/><line x1="557.75" y1="156.3" x2="560.49" y2="157.52" stroke="#383838" stroke-width="0.75"/><line x1="622.9" y1="139.8" x2="625.64" y2="141.02" stroke="#383838" stroke-width="0.75"/><line x1="492.6" y1="172.8" x2="489.69" y2="173.54" stroke="#383838" stroke-width="0.75"/><line x1="443.12" y1="150.85" x2="440.22" y2="151.59" stroke="#383838" stroke-width="0.75"/><line x1="393.65" y1="128.9" x2="390.74" y2="129.64" stroke="#383838" stroke-width="0.75"/><line x1="393.65" y1="120.59" x2="390.65" y2="120.59" stroke="#383838" stroke-width="0.75"/><line x1="393.65" y1="76.84" x2="390.65" y2="76.84" stroke="#383838" stroke-width="0.75"/><line x1="393.65" y1="33.1" x2="390.65" y2="33.1" stroke="#383838" stroke-width="0.75"/><line x1="300.5" y1="371.8" x2="198.4" y2="330.2" stroke="#d3d3d3" stroke-width="0.55"/><line x1="198.4" y1="330.2" x2="198.4" y2="241.4" stroke="#d3d3d3" stroke-width="0.55"/><line x1="366.5" y1="356" x2="264.4" y2="314.4" stroke="#d3d3d3" stroke-width="0.55"/><line x1="264.4" y1="314.4" x2="264.4" y2="225.6" stroke="#d3d3d3" stroke-width="0.55"/><line x1="432.5" y1="340.2" x2="330.4" y2="298.6" stroke="#d3d3d3" stroke-width="0.55"/><line x1="330.4" y1="298.6" x2="330.4" y2="209.8" stroke="#d3d3d3" stroke-width="0.55"/><line x1="265.28" y1="357.45" x2="397.28" y2="325.85" stroke="#d3d3d3" stroke-width="0.55"/><line x1="397.28" y1="325.85" x2="397.28" y2="237.05" stroke="#d3d3d3" stroke-width="0.55"/><line x1="198.4" y1="330.2" x2="330.4" y2="298.6" stroke="#d3d3d3" stroke-width="0.55"/><line x1="330.4" y1="298.6" x2="330.4" y2="209.8" stroke="#d3d3d3" stroke-width="0.55"/><line x1="198.4" y1="330.2" x2="330.4" y2="298.6" stroke="#d3d3d3" stroke-width="0.55"/><line x1="330.4" y1="298.6" x2="432.5" y2="340.2" stroke="#d3d3d3" stroke-width="0.55"/><line x1="198.4" y1="300.6" x2="330.4" y2="269" stroke="#d3d3d3" stroke-width="0.55"/><line x1="330.4" y1="269" x2="432.5" y2="310.6" stroke="#d3d3d3" stroke-width="0.55"/><line x1="198.4" y1="271" x2="330.4" y2="239.4" stroke="#d3d3d3" stroke-width="0.55"/><line x1="330.4" y1="239.4" x2="432.5" y2="281" stroke="#d3d3d3" stroke-width="0.55"/><g stroke="#000" stroke-width="1.1" stroke-linejoin="round"><polygon points="305.19,301.43 321.6,297.5 321.57,298.72 305.17,302.65" fill="#412cb9"/><polygon points="305.25,299.64 321.66,295.72 321.6,297.5 305.19,301.43" fill="#4331c8"/><polygon points="305.36,297.34 321.76,293.42 321.66,295.72 305.25,299.64" fill="#4639d9"/><polygon points="305.58,293.85 321.99,289.92 321.76,293.42 305.36,297.34" fill="#4747ec"/><polygon points="288.79,305.35 305.19,301.43 305.17,302.65 288.76,306.57" fill="#412cb9"/><polygon points="306.1,288.45 322.51,284.53 321.99,289.92 305.58,293.85" fill="#465ffb"/><polygon points="288.85,303.57 305.25,299.64 305.19,301.43 288.79,305.35" fill="#4331c8"/><polygon points="288.95,301.27 305.36,297.34 305.25,299.64 288.85,303.57" fill="#4639d9"/><polygon points="289.18,297.78 305.58,293.85 305.36,297.34 288.95,301.27" fill="#4747ec"/><polygon points="307.29,280.39 323.69,276.46 322.51,284.53 306.1,288.45" fill="#2e84f9"/><polygon points="272.38,309.28 288.79,305.35 288.76,306.57 272.35,310.5" fill="#412cb9"/><polygon points="289.7,292.38 306.1,288.45 305.58,293.85 289.18,297.78" fill="#465ffb"/><polygon points="272.44,307.5 288.85,303.57 288.79,305.35 272.38,309.28" fill="#4331c8"/><polygon points="272.55,305.2 288.95,301.27 288.85,303.57 272.44,307.5" fill="#4639d9"/><polygon points="272.77,301.7 289.18,297.78 288.95,301.27 272.55,305.2" fill="#4747ec"/><polygon points="290.88,284.32 307.29,280.39 306.1,288.45 289.7,292.38" fill="#2e84f9"/><polygon points="310.1,268.51 326.5,264.58 323.69,276.46 307.29,280.39" fill="#12b1d7"/><polygon points="255.98,313.21 272.38,309.28 272.35,310.5 255.95,314.43" fill="#412cb9"/><polygon points="273.29,296.31 289.7,292.38 289.18,297.78 272.77,301.7" fill="#465ffb"/><polygon points="256.03,311.43 272.44,307.5 272.38,309.28 255.98,313.21" fill="#4331c8"/><polygon points="256.14,309.13 272.55,305.2 272.44,307.5 256.03,311.43" fill="#4639d9"/><polygon points="256.37,305.63 272.77,301.7 272.55,305.2 256.14,309.13" fill="#4747ec"/><polygon points="274.48,288.24 290.88,284.32 289.7,292.38 273.29,296.31" fill="#2e84f9"/><polygon points="293.69,272.44 310.1,268.51 307.29,280.39 290.88,284.32" fill="#12b1d7"/><polygon points="239.57,317.14 255.98,313.21 255.95,314.43 239.54,318.36" fill="#412cb9"/><polygon points="256.89,300.24 273.29,296.31 272.77,301.7 256.37,305.63" fill="#465ffb"/><polygon points="239.63,315.35 256.03,311.43 255.98,313.21 239.57,317.14" fill="#4331c8"/><polygon points="239.73,313.05 256.14,309.13 256.03,311.43 239.63,315.35" fill="#4639d9"/><polygon points="239.96,309.56 256.37,305.63 256.14,309.13 239.73,313.05" fill="#4747ec"/><polygon points="315.98,253.94 332.39,250.01 326.5,264.58 310.1,268.51" fill="#5acc77"/><polygon points="258.07,292.17 274.48,288.24 273.29,296.31 256.89,300.24" fill="#2e84f9"/><polygon points="277.29,276.36 293.69,272.44 290.88,284.32 274.48,288.24" fill="#12b1d7"/><polygon points="223.17,321.06 239.57,317.14 239.54,318.36 223.14,322.28" fill="#412cb9"/><polygon points="240.48,304.16 256.89,300.24 256.37,305.63 239.96,309.56" fill="#465ffb"/><polygon points="223.22,319.28 239.63,315.35 239.57,317.14 223.17,321.06" fill="#4331c8"/><polygon points="223.33,316.98 239.73,313.05 239.63,315.35 223.22,319.28" fill="#4639d9"/><polygon points="223.56,313.49 239.96,309.56 239.73,313.05 223.33,316.98" fill="#4747ec"/><polygon points="299.58,257.86 315.98,253.94 310.1,268.51 293.69,272.44" fill="#5acc77"/><polygon points="241.67,296.1 258.07,292.17 256.89,300.24 240.48,304.16" fill="#2e84f9"/><polygon points="260.88,280.29 277.29,276.36 274.48,288.24 258.07,292.17" fill="#12b1d7"/><polygon points="206.76,324.99 223.17,321.06 223.14,322.28 206.73,326.21" fill="#412cb9"/><polygon points="224.07,308.09 240.48,304.16 239.96,309.56 223.56,313.49" fill="#465ffb"/><polygon points="206.82,323.21 223.22,319.28 223.17,321.06 206.76,324.99" fill="#4331c8"/><polygon points="206.92,320.91 223.33,316.98 223.22,319.28 206.82,323.21" fill="#4639d9"/><polygon points="207.15,317.41 223.56,313.49 223.33,316.98 206.92,320.91" fill="#4747ec"/><polygon points="283.17,261.79 299.58,257.86 293.69,272.44 277.29,276.36" fill="#5acc77"/><polygon points="225.26,300.03 241.67,296.1 240.48,304.16 224.07,308.09" fill="#2e84f9"/><polygon points="244.47,284.22 260.88,280.29 258.07,292.17 241.67,296.1" fill="#12b1d7"/><polygon points="326.89,239.98 343.3,236.05 332.39,250.01 315.98,253.94" fill="#fcbc3d"/><polygon points="207.67,312.02 224.07,308.09 223.56,313.49 207.15,317.41" fill="#465ffb"/><polygon points="266.76,265.72 283.17,261.79 277.29,276.36 260.88,280.29" fill="#5acc77"/><polygon points="208.85,303.95 225.26,300.03 224.07,308.09 207.67,312.02" fill="#2e84f9"/><polygon points="228.07,288.15 244.47,284.22 241.67,296.1 225.26,300.03" fill="#12b1d7"/><polygon points="310.49,243.91 326.89,239.98 315.98,253.94 299.58,257.86" fill="#fcbc3d"/><polygon points="250.36,269.65 266.76,265.72 260.88,280.29 244.47,284.22" fill="#5acc77"/><polygon points="211.66,292.07 228.07,288.15 225.26,300.03 208.85,303.95" fill="#12b1d7"/><polygon points="294.08,247.83 310.49,243.91 299.58,257.86 283.17,261.79" fill="#fcbc3d"/><polygon points="233.95,273.57 250.36,269.65 244.47,284.22 228.07,288.15" fill="#5acc77"/><polygon points="344.49,233.35 360.9,229.42 343.3,236.05 326.89,239.98" fill="#f9f916"/><polygon points="277.68,251.76 294.08,247.83 283.17,261.79 266.76,265.72" fill="#fcbc3d"/><polygon points="405.52,344.29 421.92,340.37 421.9,339.06 405.49,342.99" fill="#3e26a8"/><polygon points="405.49,342.99 421.9,339.06 421.84,337.05 405.44,340.98" fill="#402ab4"/><polygon points="405.44,340.98 421.84,337.05 421.71,334.05 405.31,337.98" fill="#4230c4"/><polygon points="217.55,277.5 233.95,273.57 228.07,288.15 211.66,292.07" fill="#5acc77"/><polygon points="405.31,337.98 421.71,334.05 421.47,330.22 405.07,334.15" fill="#4639da"/><polygon points="328.08,237.27 344.49,233.35 326.89,239.98 310.49,243.91" fill="#f9f916"/><polygon points="261.27,255.69 277.68,251.76 266.76,265.72 250.36,269.65" fill="#fcbc3d"/><polygon points="389.11,348.22 405.52,344.29 405.49,342.99 389.09,346.92" fill="#3e26a8"/><polygon points="405.07,334.15 421.47,330.22 420.88,323.76 404.47,327.69" fill="#4848ec"/><polygon points="389.09,346.92 405.49,342.99 405.44,340.98 389.03,344.91" fill="#402ab4"/><polygon points="389.03,344.91 405.44,340.98 405.31,337.98 388.9,341.91" fill="#4230c4"/><polygon points="404.47,327.69 420.88,323.76 419.54,314.07 403.13,317.99" fill="#4562fc"/><polygon points="388.9,341.91 405.31,337.98 405.07,334.15 388.66,338.08" fill="#4639da"/><polygon points="311.68,241.2 328.08,237.27 310.49,243.91 294.08,247.83" fill="#f9f916"/><polygon points="244.87,259.62 261.27,255.69 250.36,269.65 233.95,273.57" fill="#fcbc3d"/><polygon points="372.71,352.15 389.11,348.22 389.09,346.92 372.68,350.84" fill="#3e26a8"/><polygon points="388.66,338.08 405.07,334.15 404.47,327.69 388.07,331.61" fill="#4848ec"/><polygon points="372.68,350.84 389.09,346.92 389.03,344.91 372.63,348.84" fill="#402ab4"/><polygon points="365.01,241.27 381.42,237.34 360.9,229.42 344.49,233.35" fill="#f9fb15"/><polygon points="403.13,317.99 419.54,314.07 416.6,299.9 400.19,303.82" fill="#2d89f5"/><polygon points="372.63,348.84 389.03,344.91 388.9,341.91 372.5,345.83" fill="#4230c4"/><polygon points="388.07,331.61 404.47,327.69 403.13,317.99 386.73,321.92" fill="#4562fc"/><polygon points="372.5,345.83 388.9,341.91 388.66,338.08 372.26,342" fill="#4639da"/><polygon points="295.27,245.13 311.68,241.2 294.08,247.83 277.68,251.76" fill="#f9f916"/><polygon points="228.46,263.54 244.87,259.62 233.95,273.57 217.55,277.5" fill="#fcbc3d"/><polygon points="356.3,356.08 372.71,352.15 372.68,350.84 356.28,354.77" fill="#3e26a8"/><polygon points="372.26,342 388.66,338.08 388.07,331.61 371.66,335.54" fill="#4848ec"/><polygon points="356.28,354.77 372.68,350.84 372.63,348.84 356.22,352.76" fill="#402ab4"/><polygon points="400.19,303.82 416.6,299.9 410.48,280.47 394.08,284.39" fill="#08b4d1"/><polygon points="348.61,245.2 365.01,241.27 344.49,233.35 328.08,237.27" fill="#f9fb15"/><polygon points="386.73,321.92 403.13,317.99 400.19,303.82 383.79,307.75" fill="#2d89f5"/><polygon points="356.22,352.76 372.63,348.84 372.5,345.83 356.09,349.76" fill="#4230c4"/><polygon points="371.66,335.54 388.07,331.61 386.73,321.92 370.32,325.85" fill="#4562fc"/><polygon points="356.09,349.76 372.5,345.83 372.26,342 355.85,345.93" fill="#4639da"/><polygon points="382.65,261.34 399.06,257.41 381.42,237.34 365.01,241.27" fill="#fec13a"/><polygon points="278.87,249.06 295.27,245.13 277.68,251.76 261.27,255.69" fill="#f9f916"/><polygon points="394.08,284.39 410.48,280.47 399.06,257.41 382.65,261.34" fill="#67cd6c"/><polygon points="339.89,360 356.3,356.08 356.28,354.77 339.87,358.7" fill="#3e26a8"/><polygon points="355.85,345.93 372.26,342 371.66,335.54 355.25,339.47" fill="#4848ec"/><polygon points="339.87,358.7 356.28,354.77 356.22,352.76 339.81,356.69" fill="#402ab4"/><polygon points="383.79,307.75 400.19,303.82 394.08,284.39 377.67,288.32" fill="#08b4d1"/><polygon points="332.2,249.12 348.61,245.2 328.08,237.27 311.68,241.2" fill="#f9fb15"/><polygon points="370.32,325.85 386.73,321.92 383.79,307.75 367.38,311.68" fill="#2d89f5"/><polygon points="339.81,356.69 356.22,352.76 356.09,349.76 339.69,353.69" fill="#4230c4"/><polygon points="355.25,339.47 371.66,335.54 370.32,325.85 353.91,329.78" fill="#4562fc"/><polygon points="339.69,353.69 356.09,349.76 355.85,345.93 339.45,349.86" fill="#4639da"/><polygon points="366.24,265.27 382.65,261.34 365.01,241.27 348.61,245.2" fill="#fec13a"/><polygon points="262.46,252.98 278.87,249.06 261.27,255.69 244.87,259.62" fill="#f9f916"/><polygon points="377.67,288.32 394.08,284.39 382.65,261.34 366.24,265.27" fill="#67cd6c"/><polygon points="323.49,363.93 339.89,360 339.87,358.7 323.46,362.63" fill="#3e26a8"/><polygon points="339.45,349.86 355.85,345.93 355.25,339.47 338.85,343.4" fill="#4848ec"/><polygon points="323.46,362.63 339.87,358.7 339.81,356.69 323.41,360.62" fill="#402ab4"/><polygon points="367.38,311.68 383.79,307.75 377.67,288.32 361.27,292.25" fill="#08b4d1"/><polygon points="315.8,253.05 332.2,249.12 311.68,241.2 295.27,245.13" fill="#f9fb15"/><polygon points="353.91,329.78 370.32,325.85 367.38,311.68 350.98,315.61" fill="#2d89f5"/><polygon points="323.41,360.62 339.81,356.69 339.69,353.69 323.28,357.62" fill="#4230c4"/><polygon points="338.85,343.4 355.25,339.47 353.91,329.78 337.51,333.7" fill="#4562fc"/><polygon points="323.28,357.62 339.69,353.69 339.45,349.86 323.04,353.79" fill="#4639da"/><polygon points="349.84,269.19 366.24,265.27 348.61,245.2 332.2,249.12" fill="#fec13a"/><polygon points="246.06,256.91 262.46,252.98 244.87,259.62 228.46,263.54" fill="#f9f916"/><polygon points="361.27,292.25 377.67,288.32 366.24,265.27 349.84,269.19" fill="#67cd6c"/><polygon points="307.08,367.86 323.49,363.93 323.46,362.63 307.06,366.55" fill="#3e26a8"/><polygon points="323.04,353.79 339.45,349.86 338.85,343.4 322.44,347.32" fill="#4848ec"/><polygon points="307.06,366.55 323.46,362.63 323.41,360.62 307,364.55" fill="#402ab4"/><polygon points="350.98,315.61 367.38,311.68 361.27,292.25 344.86,296.18" fill="#08b4d1"/><polygon points="299.39,256.98 315.8,253.05 295.27,245.13 278.87,249.06" fill="#f9fb15"/><polygon points="337.51,333.7 353.91,329.78 350.98,315.61 334.57,319.53" fill="#2d89f5"/><polygon points="307,364.55 323.41,360.62 323.28,357.62 306.87,361.54" fill="#4230c4"/><polygon points="322.44,347.32 338.85,343.4 337.51,333.7 321.1,337.63" fill="#4562fc"/><polygon points="306.87,361.54 323.28,357.62 323.04,353.79 306.63,357.71" fill="#4639da"/><polygon points="333.43,273.12 349.84,269.19 332.2,249.12 315.8,253.05" fill="#fec13a"/><polygon points="344.86,296.18 361.27,292.25 349.84,269.19 333.43,273.12" fill="#67cd6c"/><polygon points="306.63,357.71 323.04,353.79 322.44,347.32 306.04,351.25" fill="#4848ec"/><polygon points="334.57,319.53 350.98,315.61 344.86,296.18 328.46,300.1" fill="#08b4d1"/><polygon points="282.99,260.91 299.39,256.98 278.87,249.06 262.46,252.98" fill="#f9fb15"/><polygon points="321.1,337.63 337.51,333.7 334.57,319.53 318.16,323.46" fill="#2d89f5"/><polygon points="306.04,351.25 322.44,347.32 321.1,337.63 304.7,341.56" fill="#4562fc"/><polygon points="317.03,277.05 333.43,273.12 315.8,253.05 299.39,256.98" fill="#fec13a"/><polygon points="328.46,300.1 344.86,296.18 333.43,273.12 317.03,277.05" fill="#67cd6c"/><polygon points="318.16,323.46 334.57,319.53 328.46,300.1 312.05,304.03" fill="#08b4d1"/><polygon points="266.58,264.83 282.99,260.91 262.46,252.98 246.06,256.91" fill="#f9fb15"/><polygon points="304.7,341.56 321.1,337.63 318.16,323.46 301.76,327.39" fill="#2d89f5"/><polygon points="300.62,280.98 317.03,277.05 299.39,256.98 282.99,260.91" fill="#fec13a"/><polygon points="312.05,304.03 328.46,300.1 317.03,277.05 300.62,280.98" fill="#67cd6c"/><polygon points="301.76,327.39 318.16,323.46 312.05,304.03 295.64,307.96" fill="#08b4d1"/><polygon points="284.22,284.9 300.62,280.98 282.99,260.91 266.58,264.83" fill="#fec13a"/><polygon points="295.64,307.96 312.05,304.03 300.62,280.98 284.22,284.9" fill="#67cd6c"/></g><line x1="300.5" y1="371.8" x2="432.5" y2="340.2" stroke="#383838" stroke-width="0.75"/><line x1="300.5" y1="371.8" x2="198.4" y2="330.2" stroke="#383838" stroke-width="0.75"/><line x1="198.4" y1="330.2" x2="198.4" y2="241.4" stroke="#383838" stroke-width="0.75"/><line x1="300.5" y1="371.8" x2="303.28" y2="372.93" stroke="#383838" stroke-width="0.75"/><line x1="366.5" y1="356" x2="369.28" y2="357.13" stroke="#383838" stroke-width="0.75"/><line x1="432.5" y1="340.2" x2="435.28" y2="341.33" stroke="#383838" stroke-width="0.75"/><line x1="265.28" y1="357.45" x2="262.36" y2="358.15" stroke="#383838" stroke-width="0.75"/><line x1="198.4" y1="330.2" x2="195.48" y2="330.9" stroke="#383838" stroke-width="0.75"/><line x1="198.4" y1="330.2" x2="195.4" y2="330.2" stroke="#383838" stroke-width="0.75"/><line x1="198.4" y1="300.6" x2="195.4" y2="300.6" stroke="#383838" stroke-width="0.75"/><line x1="198.4" y1="271" x2="195.4" y2="271" stroke="#383838" stroke-width="0.75"/></g><g stroke="#1f1f1f" stroke-width="0.2"><text x="42" y="40.4" font-size="16.2" text-anchor="end">0.4</text><text x="42" y="102.8" font-size="16.2" text-anchor="end">0.2</text><text x="42.1" y="149" font-size="16.2" text-anchor="end">4000</text><text x="91.3" y="170.4" font-size="16.2" text-anchor="end">2000</text><text x="140.7" y="192.5" font-size="16.2" text-anchor="end">0</text><text x="162.3" y="193.3" font-size="16.2" text-anchor="middle">0</text><text x="232" y="177" font-size="16.2" text-anchor="middle">0.5</text><text x="291.4" y="159.7" font-size="16.2" text-anchor="middle">1</text><text x="58.8" y="190" font-size="17.5" text-anchor="middle">f (Hz)</text><text x="241.3" y="193.6" font-size="17.5" text-anchor="middle"><tspan font-style="italic">τ</tspan>/s</text><text transform="translate(12.6,82.7) rotate(-90)" font-size="17.5" text-anchor="middle">Z(Ω)</text><text x="78.6" y="44.5" font-size="17.5" text-anchor="middle">(a)</text><text x="385.3" y="36.4" font-size="16.2" text-anchor="end">400</text><text x="385.3" y="79.8" font-size="16.2" text-anchor="end">200</text><text x="384.8" y="123.4" font-size="16.2" text-anchor="end">0</text><text x="384.8" y="146" font-size="16.2" text-anchor="end">4000</text><text x="434.3" y="167.8" font-size="16.2" text-anchor="end">2000</text><text x="483.5" y="189.7" font-size="16.2" text-anchor="end">0</text><text x="505.4" y="190.5" font-size="16.2" text-anchor="middle">0</text><text x="576.2" y="174.1" font-size="16.2" text-anchor="middle">0.5</text><text x="635.7" y="157.5" font-size="16.2" text-anchor="middle">1</text><text x="408.2" y="184.2" font-size="17.5" text-anchor="middle">f (Hz)</text><text x="589.4" y="190.5" font-size="17.5" text-anchor="middle"><tspan font-style="italic">τ</tspan> (s)</text><text transform="translate(353.4,81.3) rotate(-90)" font-size="17.5" text-anchor="middle">Phase (°)</text><text x="428.6" y="42.2" font-size="17.5" text-anchor="middle">(b)</text><text x="189.3" y="273.3" font-size="16.2" text-anchor="end">0.1</text><text x="189.3" y="303" font-size="16.2" text-anchor="end">0.05</text><text x="189.6" y="333.4" font-size="16.2" text-anchor="end">0</text><text x="190.7" y="347.7" font-size="16.2" text-anchor="end">0.4</text><text x="256.7" y="374.9" font-size="16.2" text-anchor="end">0.2</text><text x="312" y="390" font-size="16.2" text-anchor="middle">0</text><text x="383.7" y="373.7" font-size="16.2" text-anchor="middle">0.5</text><text x="443.8" y="358.3" font-size="16.2" text-anchor="middle">1</text><text x="196.5" y="390.3" font-size="17.5">Z<tspan font-size="13.3" dy="8">real</tspan><tspan dy="-8" dx="1.5"> (Ω)</tspan></text><text x="386.6" y="389.2" font-size="17.5" text-anchor="middle"><tspan font-style="italic">τ</tspan> (s)</text><text transform="translate(148,297.5) rotate(-90)" font-size="17.5" text-anchor="middle">Z<tspan font-size="13.3" dy="8.1">image</tspan><tspan dy="-8.1"> (Ω)</tspan></text><text x="235.9" y="238.9" font-size="17.5" text-anchor="middle">(c)</text></g></svg></body></html>
